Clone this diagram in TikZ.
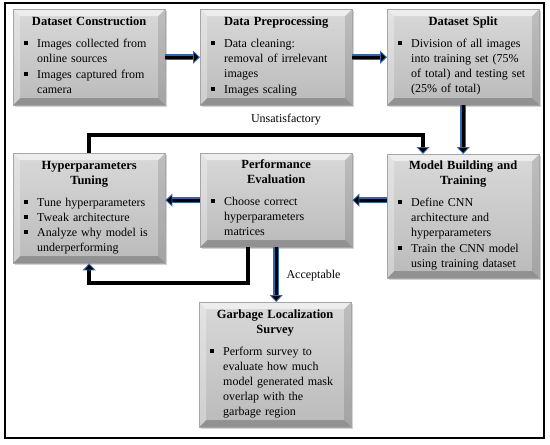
\documentclass[tikz,border=0pt]{standalone}
\usepackage{fontspec}
\setmainfont{Liberation Serif}
\usetikzlibrary{arrows.meta,shadows}

\definecolor{edgeblue}{RGB}{46,104,178}
\setlength{\lineskip}{0pt}

\newcommand{\bul}[1]{\par\noindent\makebox[17pt][l]{\hspace{4pt}\rule[2.5pt]{4pt}{4pt}}\parbox[t]{121pt}{\raggedright\strut #1\strut}\par}
\newcommand{\boxtitle}[1]{{\centering\fontsize{12.5}{15}\selectfont\bfseries #1\par}\vspace{7pt}}

\tikzset{
  bevel/.style={path picture={
    \path (path picture bounding box.north west) coordinate (nw)
          (path picture bounding box.north east) coordinate (ne)
          (path picture bounding box.south west) coordinate (sw)
          (path picture bounding box.south east) coordinate (se);
    \fill[white, opacity=0.55] (nw) -- (ne) -- ([shift={(-7pt,-7pt)}]ne) -- ([shift={(7pt,-7pt)}]nw) -- cycle;
    \fill[white, opacity=0.3] (nw) -- ([shift={(7pt,-7pt)}]nw) -- ([shift={(7pt,7pt)}]sw) -- (sw) -- cycle;
    \fill[black, opacity=0.12] (ne) -- (se) -- ([shift={(-7pt,7pt)}]se) -- ([shift={(-7pt,-7pt)}]ne) -- cycle;
    \fill[black, opacity=0.22] (sw) -- (se) -- ([shift={(-7pt,7pt)}]se) -- ([shift={(7pt,7pt)}]sw) -- cycle;
  }},
  stage/.style={anchor=north west, inner xsep=7pt, inner ysep=4pt, text width=138pt,
    draw=black!35, line width=0.4pt, top color=black!15, bottom color=black!27,
    drop shadow={opacity=0.35, shadow xshift=2pt, shadow yshift=-2pt},
    font=\fontsize{12}{15}\selectfont, bevel},
  flow/.style={line width=3.4pt, black,
    -{Triangle[width=13pt,length=7pt,fill=black,color=edgeblue,line width=0.9pt]},
    preaction={draw=edgeblue, line width=5.6pt, -, shorten >=6pt}},
  loopline/.style={line width=4pt, black,
    -{Triangle[width=13pt,length=7pt,fill=black,color=edgeblue,line width=0.9pt]}},
  tag/.style={font=\fontsize{12}{15}\selectfont}
}

\begin{document}
\begin{tikzpicture}[x=1pt, y=-1pt]
  \useasboundingbox (0,0) rectangle (550,445);
  \draw[line width=1.5pt] (5,3) rectangle (544,438);

  % first row
  \node[stage, minimum height=96pt] (b1) at (13,9)
    {\boxtitle{Dataset Construction}\bul{Images collected from\\online sources}\bul{Images captured from\\camera}};
  \node[stage, minimum height=96pt] (b2) at (200,9)
    {\boxtitle{Data Preprocessing}\bul{Data cleaning:\\removal of irrelevant\\images}\bul{Images scaling}};
  \node[stage, minimum height=96pt] (b3) at (387,9)
    {\boxtitle{Dataset Split}\bul{Division of all images\\into training set (75\%\\of total) and testing set\\(25\% of total)}};

  % second row
  \node[stage, minimum height=110pt] (b4) at (13,153)
    {\boxtitle{Hyperparameters\\Tuning}\bul{Tune hyperparameters}\bul{Tweak architecture}\bul{Analyze why model is\\underperforming}};
  \node[stage, minimum height=94pt] (b5) at (200,153)
    {\boxtitle{Performance\\Evaluation}\bul{Choose correct\\hyperparameters\\matrices}};
  \node[stage, minimum height=124pt] (b6) at (387,154)
    {\boxtitle{Model Building and\\Training}\bul{Define CNN\\architecture and\\hyperparameters}\bul{Train the CNN model\\using training dataset}};

  % last box
  \node[stage, minimum height=125pt] (b7) at (199,302)
    {\boxtitle{Garbage Localization\\Survey}\bul{Perform survey to\\evaluate how much\\model generated mask\\overlap with the\\garbage region}};

  \draw[flow] (b1.east) -- (b2.west);
  \draw[flow] (b2.east) -- (b3.west);
  \draw[flow] (b3.south) -- (b3.south |- b6.north);
  \draw[flow] (b6.west |- b5.east) -- (b5.east);
  \draw[flow] (b5.west) -- (b5.west -| b4.east);
  \draw[flow] (b5.south) -- (b5.south |- b7.north);

  \coordinate (bend) at (423,135);
  \coordinate (back) at (248,283);
  \draw[loopline] (b4.north) |- (bend) -- (bend |- b6.north);
  \draw[loopline] (back |- b5.south) -- (back) -| (b4.south);

  \node[tag] (unsat) at (286,120) {Unsatisfactory};
  \node[tag, anchor=west] (accept) at (283,276) {Acceptable};
\end{tikzpicture}
\end{document}
